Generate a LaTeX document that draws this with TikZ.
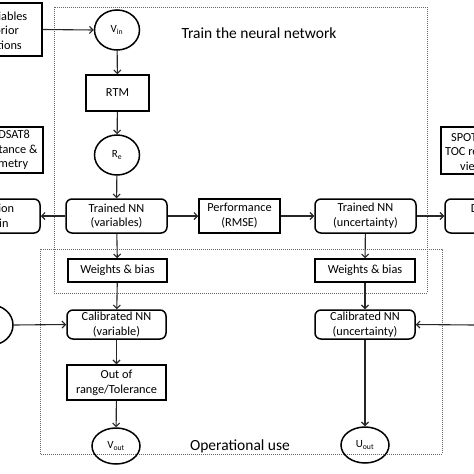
\documentclass[tikz,border=0pt]{standalone}
\usepackage{fontspec}
\setmainfont{Carlito}
\usetikzlibrary{arrows.meta,shapes.geometric}
\begin{document}
\begin{tikzpicture}[x=1pt,y=-1pt,
  font=\fontsize{12.3}{14.8}\selectfont,
  sq/.style={draw=black, line width=1.5pt, align=center, inner sep=0pt},
  rnd/.style={sq, rounded corners=6pt},
  oval/.style={draw=black, ellipse, line width=1.5pt, inner sep=0pt,
    minimum width=46pt, minimum height=40pt, font=\fontsize{11}{13}\selectfont},
  flow/.style={draw=black!85, line width=1.1pt,
    -{Straight Barb[length=3.5pt,width=7pt,line width=1.1pt]}},
  region/.style={draw=black!60, line width=0.9pt, dash pattern=on 0.9pt off 1.1pt},
  line/.style={inner sep=0pt},
  title/.style={font=\fontsize{15.5}{18}\selectfont, inner sep=0pt}]
\useasboundingbox (0,0) rectangle (474,474);
\clip (0,0) rectangle (474,474);

% dotted regions
\draw[region] (54,7) rectangle (427,293);
\draw[region] (40,249) rectangle (442,454);
\node[title] (traintitle) at (259,33) {Train the neural network};
\node[title] (optitle) at (240,446) {Operational use};

% inputs on the left
\node[sq, minimum width=80pt, minimum height=53pt] (priors) at (2,29.5) {};
\node[line, anchor=base east] (prior1) at (27.5,20) {Variables};
\node[line, anchor=base east] (prior2) at (19,34.5) {prior};
\node[line, anchor=base east] (prior3) at (22,49) {distributions};
\node[sq, minimum width=78pt, minimum height=46pt] (landsat) at (4,150)
  {LANDSAT8\\reflectance \&\\geometry};
\node[rnd, minimum width=101pt, minimum height=34pt] (defL) at (-10.5,216)
  {Definition\\domain};
\node[oval, minimum width=44pt] (inL) at (-9,325) {};

% inputs on the right
\node[sq, minimum width=96pt, minimum height=47pt] (spot) at (489,150.5) {};
\node[line, anchor=base west] (spot1) at (451,141) {SPOT5};
\node[line, anchor=base west] (spot2) at (445,155.5) {TOC reflectance \&};
\node[line, anchor=base west] (spot3) at (460,170) {view geometry};
\node[rnd, minimum width=101pt, minimum height=34pt] (defR) at (495.5,216)
  {Definition\\domain};
\node[oval, minimum width=44pt] (inR) at (497,325) {};

% training chain
\node[oval, minimum width=45pt] (vin) at (117,30) {V\textsubscript{in}};
\node[sq, minimum width=63pt, minimum height=36pt] (rtm) at (117.5,93) {RTM};
\node[oval, minimum width=45pt] (re) at (117,155) {R\textsubscript{e}};
\node[rnd, minimum width=101pt, minimum height=34pt] (tnnv) at (116.5,216)
  {Trained NN\\(variables)};
\node[sq, minimum width=81pt, minimum height=34pt] (perf) at (239.5,216)
  {Performance\\(RMSE)};
\node[rnd, minimum width=101pt, minimum height=34pt] (tnnu) at (365.5,216)
  {Trained NN\\(uncertainty)};

% operational chain
\node[sq, minimum width=99pt, minimum height=23pt] (wbL) at (117.5,270.5) {Weights \& bias};
\node[sq, minimum width=100pt, minimum height=23pt] (wbR) at (365,270.5) {Weights \& bias};
\node[rnd, minimum width=99pt, minimum height=29pt] (calV) at (116.5,324.5)
  {Calibrated NN\\(variable)};
\node[rnd, minimum width=100pt, minimum height=29pt] (calU) at (365,324.5)
  {Calibrated NN\\(uncertainty)};
\node[sq, minimum width=99pt, minimum height=35pt] (oor) at (116.5,382.5)
  {Out of\\range/Tolerance};
\node[oval, minimum width=48pt, minimum height=36pt] (vout) at (116,446) {V\textsubscript{out}};
\node[oval, minimum width=48pt, minimum height=36pt] (uout) at (365,445) {U\textsubscript{out}};

% connectors
\draw[flow] (priors.east) -- (vin.west);
\draw[flow] (vin) -- (rtm);
\draw[flow] (rtm) -- (re);
\draw[flow] (re) -- (tnnv);
\draw[flow] (tnnv.west) -- (defL.east);
\draw[flow] (tnnv.east) -- (perf.west);
\draw[flow] (perf.east) -- (tnnu.west);
\draw[flow] (tnnu.east) -- (defR.west);
\draw[flow] (tnnv) -- (wbL);
\draw[flow] (tnnu) -- (wbR);
\draw[flow] (wbL) -- (calV);
\draw[flow] (wbR) -- (calU);
\draw[flow] (inL.east) -- (calV.west);
\draw[flow] (inR.west) -- (calU.east);
\draw[flow] (calV) -- (oor);
\draw[flow] (oor) -- (vout);
\draw[flow] (calU) -- (uout);
\end{tikzpicture}
\end{document}
